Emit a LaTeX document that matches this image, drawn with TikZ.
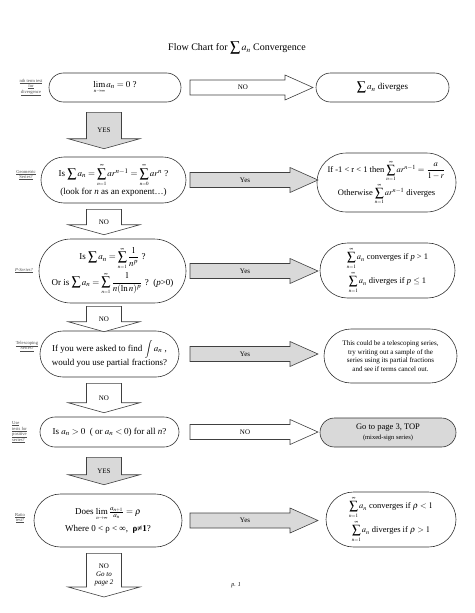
\documentclass[tikz,border=0pt]{standalone}
\usepackage{mathptmx}
\usepackage[no-math]{fontspec}
\setmainfont{Liberation Serif}
\usepackage{amsmath}
\usetikzlibrary{calc,shapes.misc}

\definecolor{arrowgrey}{gray}{0.85}
\tikzset{
  term/.style={rounded rectangle, draw=black!80, line width=0.6pt, align=center,
    inner sep=1pt, font=\fontsize{9}{11}\selectfont},
  arrowbox/.style={draw=black!75, line width=0.6pt},
  arrowlabel/.style={font=\fontsize{7}{8}\selectfont, align=center, inner sep=0pt},
  side/.style={font=\fontsize{4.6}{5.6}\selectfont, text=black!70, align=center, inner sep=0pt},
}
% big sum sign, with or without tiny limits
\newcommand{\bsum}{\mathop{\displaystyle\sum}\nolimits}
\newcommand{\ssum}[2]{\mathop{\displaystyle\sum}\limits_{\scriptscriptstyle #1}^{\scriptscriptstyle #2}}

% block arrow to the right: [fill]{label name}{tail}{head}{label}
\newcommand{\rarrow}[5][white]{%
  \draw[arrowbox, fill=#1] let \p1=(#3), \p2=(#4) in
    (\x1,\y1+7.5pt) -- (\x2-28pt,\y1+7.5pt) -- (\x2-28pt,\y1+12.5pt) -- (\x2,\y1)
    -- (\x2-28pt,\y1-12.5pt) -- (\x2-28pt,\y1-7.5pt) -- (\x1,\y1-7.5pt) -- cycle;
  \node[arrowlabel] (#2) at ($(#3)!0.43!(#4)$) {#5};}
% block arrow downwards
\newcommand{\darrow}[5][white]{%
  \draw[arrowbox, fill=#1] let \p1=(#3), \p2=(#4) in
    (\x1-17.5pt,\y1) -- (\x1+17.5pt,\y1) -- (\x1+17.5pt,\y2+10pt) -- (\x1+36pt,\y2+10pt)
    -- (\x1,\y2) -- (\x1-36pt,\y2+10pt) -- (\x1-17.5pt,\y2+10pt) -- cycle;
  \node[arrowlabel] (#2) at ($(#3)!0.5!(#4)$) {#5};}

\begin{document}
\begin{tikzpicture}[x=1pt,y=-1pt]
  \useasboundingbox (0,0) rectangle (474,613);

  \node[font=\fontsize{10}{12}\selectfont] (title) at (237,48)
    {Flow Chart for $\bsum a_n$ Convergence};

  \coordinate (col) at (104,0);
  \coordinate (tailx) at (190,0);
  \coordinate (headx) at (318,0);

  % questions
  \node[term, minimum width=134, minimum height=29] (lim) at (115,87.5)
    {$\lim\limits_{\scriptscriptstyle n\to\infty} a_n = 0$ ?};
  \node[term, minimum width=147, minimum height=46] (geo) at (113.5,180)
    {Is $\bsum a_n = \ssum{n=1}{\infty} ar^{n-1} = \ssum{n=0}{\infty} ar^{n}$ ?\\[1pt]
     (look for \textit{n} as an exponent…)};
  \node[term, minimum width=149, minimum height=64] (pser) at (112.5,271)
    {Is $\bsum a_n = \ssum{n=1}{\infty}\dfrac{1}{n^{p}}$ ?\\[2pt]
     Or is $\bsum a_n = \ssum{n=1}{\infty}\dfrac{1}{n(\ln n)^{p}}$ ?\ \ (\textit{p}>0)};
  \node[term, minimum width=141, minimum height=46] (tele) at (109.5,354)
    {If you were asked to find $\displaystyle\int a_n$ ,\\ would you use partial fractions?};
  \node[term, minimum width=141, minimum height=30] (pos) at (109.5,432)
    {Is $a_n > 0$\ \ ( or $a_n < 0$) for all \textit{n}?};
  \node[term, minimum width=150, minimum height=53] (ratio) at (108,520.5)
    {Does $\lim\limits_{\scriptscriptstyle n\to\infty}\frac{a_{n+1}}{a_n} = \rho$\\[4pt]
     Where 0 < ρ < ∞,\ \ \textbf{ρ≠1}?};

  % answers
  \node[term, minimum width=135, minimum height=29] (div) at (382.5,87.5)
    {$\bsum a_n$ diverges};
  \node[term, minimum width=141, minimum height=59, font=\fontsize{8.5}{10}\selectfont] (geoans) at (386.5,182.5)
    {If -1 < r < 1 then $\ssum{n=1}{\infty} ar^{n-1} = \dfrac{a}{1-r}$\\[1pt]
     Otherwise $\ssum{n=1}{\infty} ar^{n-1}$ diverges};
  \node[term, minimum width=137, minimum height=55, font=\fontsize{8.5}{10}\selectfont] (pans) at (387.5,270.5)
    {$\ssum{n=1}{\infty} a_n$ converges if \textit{p} > 1\\[2pt]
     $\ssum{n=1}{\infty} a_n$ diverges if \textit{p} $\le$ 1};
  \node[term, minimum width=135, minimum height=54, font=\fontsize{7}{8.5}\selectfont] (teleans) at (390.5,356)
    {This could be a telescoping series,\\ try writing out a sample of the\\
     series using its partial fractions\\ and see if terms cancel out.};
  \node[term, minimum width=138, minimum height=29, fill=arrowgrey, font=\fontsize{8.5}{9.5}\selectfont] (mixed) at (388,432.5)
    {Go to page 3, TOP\\ {\fontsize{6.5}{7.5}\selectfont (mixed-sign series)}};
  \node[term, minimum width=132, minimum height=55, font=\fontsize{8.5}{10}\selectfont] (ratans) at (391,519.5)
    {$\ssum{n=1}{\infty} a_n$ converges if $\rho < 1$\\[2pt]
     $\ssum{n=1}{\infty} a_n$ diverges if $\rho > 1$};

  % side notes
  \node[side] (nthnote) at (31,87) {\underline{nth term test}\\ \underline{for}\\ \underline{divergence}};
  \node[side] (geonote) at (26,175) {\underline{Geometric}\\ \underline{Series?}};
  \node[side] (pnote) at (24,270) {\underline{\textit{P-Series?}}};
  \node[side] (telenote) at (27,346) {\underline{Telescoping}\\ \underline{Series?}};
  \node[side, align=left, anchor=west] (posnote) at (12,432)
    {\underline{Use}\\ \underline{tests for}\\ \underline{positive}\\ \underline{series?}};
  \node[side] (ratnote) at (20,518) {\underline{Ratio}\\ \underline{test?}};

  % arrows to the right
  \rarrow{no1}{tailx |- lim.east}{$(headx |- lim.east)+(-5,0)$}{NO}
  \rarrow[arrowgrey]{yes2}{tailx |- geo.east}{headx |- geo.east}{Yes}
  \rarrow[arrowgrey]{yes3}{tailx |- pser.east}{headx |- pser.east}{Yes}
  \rarrow[arrowgrey]{yes4}{tailx |- tele.east}{headx |- tele.east}{Yes}
  \rarrow{no5}{tailx |- pos.east}{headx |- pos.east}{NO}
  \rarrow[arrowgrey]{yes6}{tailx |- ratio.east}{headx |- ratio.east}{Yes}

  % arrows down
  \coordinate (next) at (104,597);
  \darrow[arrowgrey]{yes1}{$(col |- lim.south)+(0,10)$}{$(col |- geo.north)+(0,-8)$}{YES}
  \darrow{no2}{$(col |- geo.south)+(0,6)$}{$(col |- pser.north)+(0,-4)$}{NO}
  \darrow{no3}{$(col |- pser.south)+(0,3)$}{$(col |- tele.north)+(0,1)$}{NO}
  \darrow{no4}{$(col |- tele.south)+(0,6)$}{$(col |- pos.north)+(0,-4)$}{NO}
  \darrow[arrowgrey]{yes5}{$(col |- pos.south)+(0,10)$}{$(col |- ratio.north)+(0,-9)$}{YES}
  \darrow{no6}{$(col |- ratio.south)+(0,6)$}{next}{NO\\ \textit{Go to}\\ \textit{page 2}}

  \node[font=\fontsize{6}{7}\selectfont\itshape] (page) at (236,585) {p. 1};
\end{tikzpicture}
\end{document}
